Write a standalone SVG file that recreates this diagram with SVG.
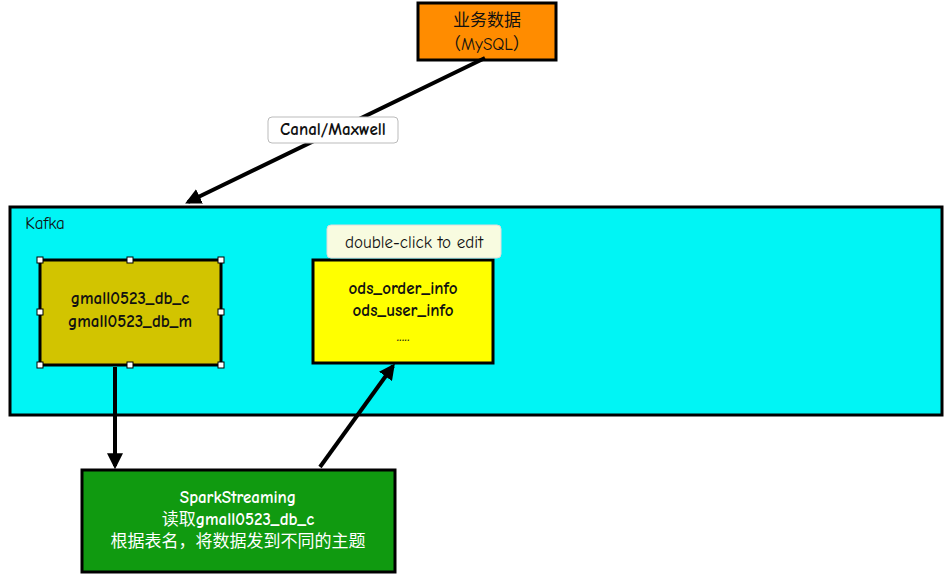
<svg xmlns="http://www.w3.org/2000/svg" width="947" height="576" viewBox="0 0 947 576">
<style>
text{font-family:"Comic Neue","Liberation Sans","Noto Sans CJK SC",sans-serif;font-size:17px;text-anchor:middle;fill:#111}
.b{stroke:#000;stroke-width:3}
.c{stroke:#000;stroke-width:4;fill:none}
.h{fill:#fff;stroke:#000;stroke-width:1}
</style>
<defs><marker id="a" viewBox="0 0 10 10" refX="8" refY="5" markerWidth="4" markerHeight="4" orient="auto"><path d="M0,0L10,5L0,10z" fill="#000"/></marker></defs>
<rect width="947" height="576" fill="#fff"/>
<g id="kafka"><rect class="b" x="10" y="207" width="932" height="208" fill="#00f5f5"/><text x="45" y="229">Kafka</text></g>
<g id="mysql"><rect class="b" x="418" y="3" width="138" height="57" fill="#ff8c00"/><text x="487" y="26">业务数据</text><text x="487" y="50">（MySQL）</text></g>
<g id="raw"><rect class="b" x="40" y="260" width="181" height="105" fill="#d2c400"/><text x="130" y="304" font-weight="bold">gmall0523_db_c</text><text x="130" y="327" font-weight="bold">gmall0523_db_m</text>
<g class="h"><rect x="37" y="257" width="6" height="6"/><rect x="127" y="257" width="6" height="6"/><rect x="218" y="257" width="6" height="6"/><rect x="37" y="309" width="6" height="6"/><rect x="218" y="309" width="6" height="6"/><rect x="37" y="362" width="6" height="6"/><rect x="127" y="362" width="6" height="6"/><rect x="218" y="362" width="6" height="6"/></g></g>
<g id="ods"><rect class="b" x="313" y="260" width="180" height="103" fill="#ffff00"/><text x="403" y="294" font-weight="bold">ods_order_info</text><text x="403" y="316" font-weight="bold">ods_user_info</text><text x="403" y="341" font-size="10">.....</text></g>
<g id="tip"><rect x="327" y="225" width="174" height="33" rx="4" fill="#f8fbe0" stroke="#ddd"/><text x="414" y="248">double-click to edit</text></g>
<g id="spark"><rect class="b" x="82" y="470" width="313" height="102" fill="#109a10"/><text x="238" y="503" style="fill:#fff;font-weight:bold">SparkStreaming</text><text x="238" y="525" style="fill:#fff">读取<tspan font-weight="bold">gmall0523_db_c</tspan></text><text x="238" y="547" style="fill:#fff">根据表名，将数据发到不同的主题</text></g>
<g id="connectors">
<path class="c" d="M485,58L188,202" marker-end="url(#a)"/>
<path class="c" d="M115,367L115,466" marker-end="url(#a)"/>
<path class="c" d="M320,467L393,366" marker-end="url(#a)"/>
<rect x="268" y="117" width="130" height="26" rx="4" fill="#fff" stroke="#bbb"/><text x="333" y="135" font-weight="bold">Canal/Maxwell</text>
</g>
</svg>
